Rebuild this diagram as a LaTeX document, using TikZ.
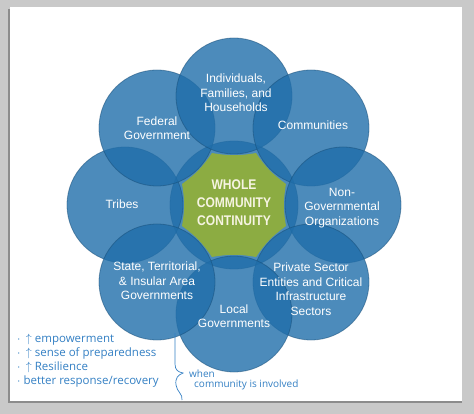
\documentclass[tikz,border=0pt]{standalone}
\usepackage{fontspec}
\setmainfont{Liberation Sans}
\newfontfamily\hubfont[FakeStretch=0.86]{Liberation Sans}
\newfontfamily\handfont{Open Sans}
\usepackage{tikz}

\definecolor{petalblue}{RGB}{32,110,170}
\definecolor{hubgreen}{RGB}{140,172,66}
\definecolor{hubtext}{RGB}{246,244,226}
\definecolor{inkblue}{RGB}{52,128,196}
\definecolor{pagegray}{RGB}{201,201,201}

\begin{document}
\begin{tikzpicture}[x=1pt,y=-1pt,
        petal/.style={circle,minimum size=116pt,inner sep=0pt,
            fill=petalblue,fill opacity=0.8,
            draw=petalblue!70!black,draw opacity=0.5,line width=0.8pt},
        petallabel/.style={text=white,align=center,
            font=\fontsize{12}{14.5}\selectfont},
        handnote/.style={text=inkblue,align=left,inner sep=0pt}]
            % page
            \useasboundingbox (0,0) rectangle (474,414);
            \fill [pagegray] (0,0) rectangle (474,414);
            \fill [black!45] (8,9) rectangle (462,403);
            \fill [white] (10,7) rectangle (462,401);

            % petals
            \coordinate (hub) at (234,205);
            \node [petal] (core) at (hub) [minimum size=128pt] {};
            \node [petal] (tribes) at (125,205) {};
            \node [petal] (federal) at (157,128) {};
            \node [petal] (individuals) at (234,96) {};
            \node [petal] (communities) at (311,128) {};
            \node [petal] (ngo) at (343,205) {};
            \node [petal] (private) at (311,282) {};
            \node [petal] (local) at (234,314) {};
            \node [petal] (state) at (157,282) {};

            % green octagon
            \fill [hubgreen] (286,184) to[bend left=10] (256,153)
                to[bend left=10] (212,153) to[bend left=10] (182,184)
                to[bend left=10] (182,226) to[bend left=10] (212,257)
                to[bend left=10] (256,257) to[bend left=10] (286,226)
                to[bend left=10] cycle;
            \node [text=hubtext,align=center,
                font=\hubfont\bfseries\fontsize{14}{18}\selectfont]
                (hubname) at (234,203) {WHOLE\\COMMUNITY\\CONTINUITY};

            % labels
            \node [petallabel] (individualstext) at (236,93) {Individuals,\\Families, and\\Households};
            \node [petallabel] (federaltext) at (157,128) {Federal\\Government};
            \node [petallabel] (communitiestext) at (313,125) {Communities};
            \node [petallabel] (tribestext) at (122,204) {Tribes};
            \node [petallabel] (ngotext) at (342,208) {Non-\\Governmental\\Organizations};
            \node [petallabel] (privatetext) at (311,289) {Private Sector\\Entities and Critical\\Infrastructure\\Sectors};
            \node [petallabel] (statetext) at (157,281) {State, Territorial,\\\& Insular Area\\Governments};
            \node [petallabel] (localtext) at (234,316) {Local\\Governments};

            % notes
            \node [handnote,anchor=west,font=\handfont\fontsize{11.5}{14}\selectfont]
                (benefits) at (17,361)
                {$\cdot\,\uparrow$ empowerment\\$\cdot\,\uparrow$ sense of preparedness\\$\cdot\,\uparrow$ Resilience\\$\cdot$ better response/recovery};
            \coordinate (bracetop) at (175,333);
            \coordinate (bracetip) at (183,373);
            \coordinate (bracebottom) at (182,400);
            \draw [inkblue,line width=0.7pt] (bracetop) -- (175,364)
                .. controls (175,370) and (178,372) .. (bracetip)
                .. controls (178,375) and (175,378) .. (176,385)
                .. controls (177,392) and (183,394) .. (bracebottom);
            \node [handnote,anchor=west,font=\handfont\fontsize{10}{10}\selectfont]
                (whennote) at (189,380) {when\\\hspace{5pt}community is involved};
        \end{tikzpicture}
\end{document}
